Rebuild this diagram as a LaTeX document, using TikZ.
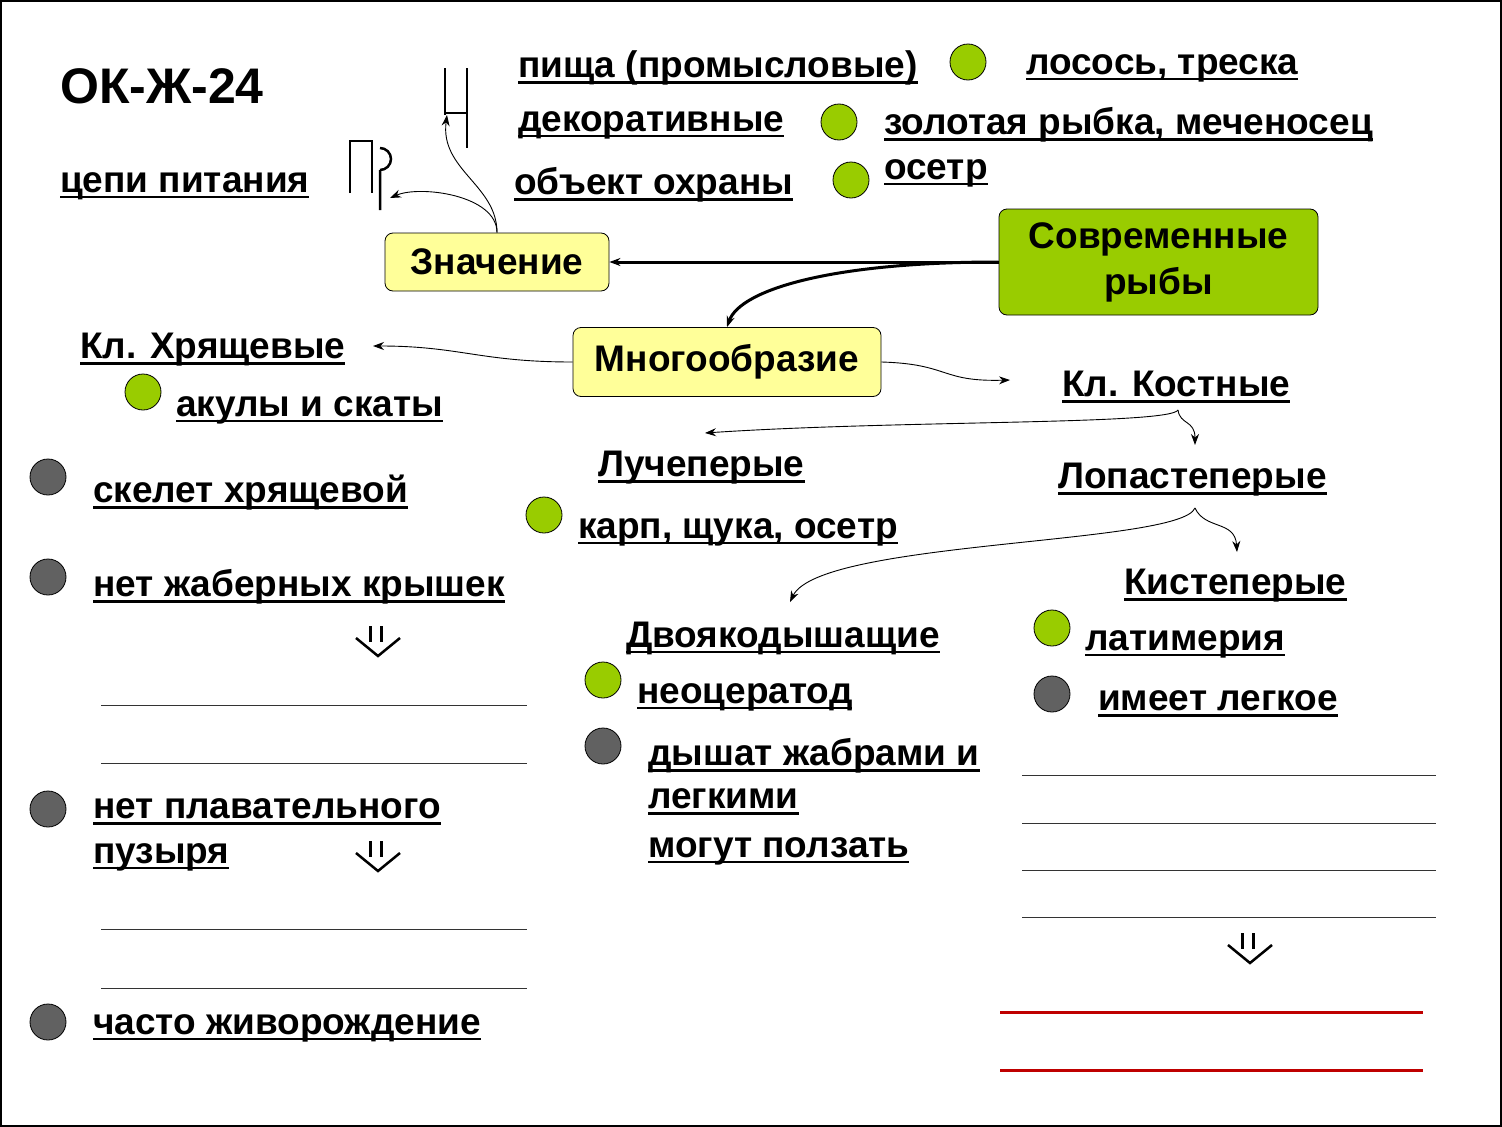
\documentclass[tikz,border=0pt]{standalone}
\usepackage{fontspec}
\setmainfont{Liberation Sans}
\usetikzlibrary{arrows.meta}
\newcommand{\ulx}[1]{\setbox0\hbox{#1}\rlap{\rule[-6pt]{\wd0}{2.5pt}}\box0}
\tikzset{
 t/.style={anchor=west,inner sep=0pt,yshift=-4pt,font=\fontsize{37}{40}\selectfont\bfseries},
 gdot/.style={circle,draw=black,minimum size=36pt,inner sep=0pt,line width=0.8pt},
 ddot/.style={circle,draw=black,fill=black!62,minimum size=36pt,inner sep=0pt,line width=0.8pt},
 ybox/.style={draw=black,rounded corners=8pt,font=\fontsize{37}{40}\selectfont\bfseries,inner sep=0pt,line width=0.8pt},
 arr/.style={-{Stealth[length=11pt,width=8pt]},line width=0.9pt},
 wl/.style={line width=1pt,black!80},
 rl/.style={line width=3pt,red!75!black},
}
\definecolor{gr}{HTML}{99CC00}
\definecolor{yl}{HTML}{FFFF99}
\newcommand{\dsym}[2]{\draw[line width=3pt] (#1-8,#2-14)--(#1-8,#2+2) (#1+3,#2-14)--(#1+3,#2+2); \draw[line width=2.5pt] (#1-22,#2-2)--(#1,#2+16)--(#1+22,#2-2);}
\begin{document}
\begin{tikzpicture}[x=1pt,y=-1pt]
\useasboundingbox (0,0) rectangle (1502,1127);
\draw[line width=1.5pt] (1,1) rectangle (1501,1126);
\node[t,font=\fontsize{50}{52}\selectfont\bfseries] (title) at (60,82) {ОК-Ж-24};
\node[t] (cep) at (60,182) {\ulx{цепи питания}};
\node[t] (p1) at (518,64) {\ulx{пища (промысловые)}};
\node[t] (p2) at (518,121) {\ulx{декоративные}};
\node[t] (p3) at (514,181) {\ulx{объект охраны}};
\node[gdot,fill=gr] (g1) at (968,62) {};
\node[gdot,fill=gr] (g2) at (839,122) {};
\node[gdot,fill=gr] (g3) at (851,180) {};
\node[t] (e1) at (1026,64) {\ulx{лосось, треска}};
\node[t] (e2) at (884,121) {\ulx{золотая рыбка, меченосец}};
\node[t] (e3) at (884,169) {\ulx{осетр}};
% symbols
\draw[line width=2.5pt] (445,68)--(445,115) (445,113)--(467,113) (467,68)--(467,148);
\coordinate (H) at (447,115);
\draw[line width=2.5pt] (350,193)--(350,141)--(372,141)--(372,193);
\draw[line width=2.5pt] (380,210)--(380,170) (380,170) arc[start angle=-90,end angle=90,radius=11pt];
\coordinate (Pr) at (390,198);
\node[ybox,fill=yl,minimum width=224pt,minimum height=58pt] (zn) at (497,262) {Значение};
\node[ybox,fill=gr,minimum width=319pt,minimum height=106pt,align=center,font=\fontsize{37}{46}\selectfont\bfseries] (sov) at (1158.5,262) {Современные\\рыбы};
\node[ybox,fill=yl,minimum width=308pt,minimum height=69pt] (mn) at (727,362) {Многообразие};
\draw[arr,line width=3pt] (sov.west) -- (zn.east);
\draw[arr,line width=3pt] (sov.west) .. controls (830,262) and (740,290) .. (mn.north);
\draw[arr] (zn.north) .. controls (497,195) and (420,185) .. (Pr);
\draw[arr] (zn.north) .. controls (497,185) and (440,170) .. (H);
% left
\node[t] (hr) at (80,346) {\ulx{Кл. Хрящевые}};
\node[gdot,fill=gr] (g4) at (143,392) {};
\node[t] (ak) at (176,406) {\ulx{акулы и скаты}};
\coordinate (hrin) at (373,346);
\draw[arr] (mn.west) .. controls (480,362) and (460,346) .. (hrin);
\node[ddot] (d1) at (48,477) {};
\node[ddot] (d2) at (48,577) {};
\node[ddot] (d3) at (48,809) {};
\node[ddot] (d4) at (48,1022) {};
\node[t] (s1) at (93,489) {\ulx{скелет хрящевой}};
\node[t] (s2) at (93,583) {\ulx{нет жаберных крышек}};
\dsym{378}{640}
\draw[wl] (101,705)--(527,705) (101,763)--(527,763) (101,929)--(527,929) (101,988)--(527,988);
\node[t] (s3) at (93,808) {\ulx{нет плавательного}};
\node[t] (s4) at (93,853) {\ulx{пузыря}};
\dsym{378}{855}
\node[t] (s5) at (93,1024) {\ulx{часто живорождение}};
% right
\node[t] (ko) at (1062,383) {\ulx{Кл. Костные}};
\coordinate (koin) at (1010,380);
\draw[arr] (mn.east) .. controls (950,364) and (940,382) .. (koin);
\node[t] (lu) at (598,464) {\ulx{Лучеперые}};
\node[gdot,fill=gr] (g5) at (544,515) {};
\node[t] (ka) at (578,528) {\ulx{карп, щука, осетр}};
\node[t] (lo) at (1058,476) {\ulx{Лопастеперые}};
\coordinate (kob) at (1178,410);
\coordinate (luin) at (705,433);
\coordinate (loin) at (1195,445);
\draw[arr] (kob) .. controls (1170,425) and (900,420) .. (luin);
\draw[arr] (kob) .. controls (1180,425) and (1195,420) .. (loin);
\node[t] (ki) at (1124,582) {\ulx{Кистеперые}};
\node[gdot,fill=gr] (g6) at (1052,628) {};
\node[t] (la) at (1085,640) {\ulx{латимерия}};
\node[ddot] (d5) at (1052,694) {};
\node[t] (im) at (1098,700) {\ulx{имеет легкое}};
\draw[wl] (1022,775)--(1436,775) (1022,823)--(1436,823) (1022,870)--(1436,870) (1022,917)--(1436,917);
\dsym{1250}{947}
\draw[rl] (1000,1012)--(1423,1012) (1000,1070)--(1423,1070);
\coordinate (lob) at (1195,508);
\coordinate (dvin) at (790,602);
\coordinate (kiin) at (1237,552);
\draw[arr] (lob) .. controls (1180,545) and (820,540) .. (dvin);
\draw[arr] (lob) .. controls (1205,530) and (1235,520) .. (kiin);
\node[t] (dv) at (626,634) {\ulx{Двоякодышащие}};
\node[gdot,fill=gr] (g7) at (603,680) {};
\node[t] (ne) at (637,693) {\ulx{неоцератод}};
\node[ddot] (d6) at (603,746) {};
\node[t] (dy) at (648,752) {\ulx{дышат жабрами и}};
\node[t] (le) at (648,798) {\ulx{легкими}};
\node[t] (mo) at (648,847) {\ulx{могут ползать}};
\end{tikzpicture}
\end{document}
